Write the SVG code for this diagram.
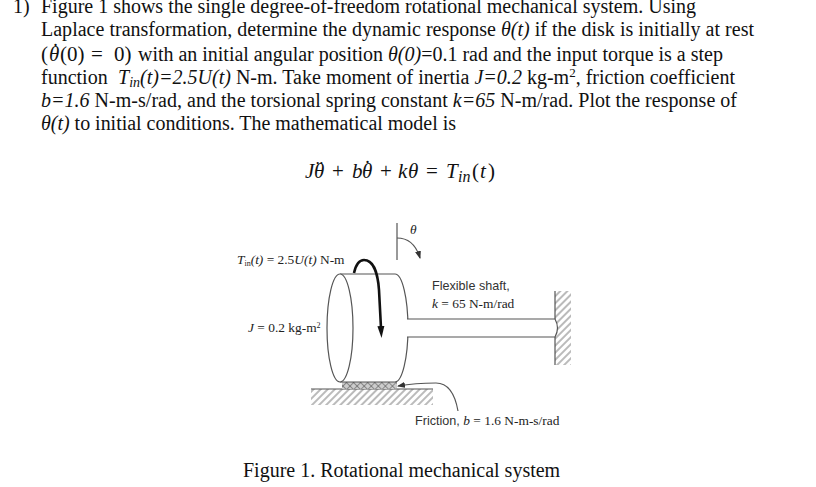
<svg xmlns="http://www.w3.org/2000/svg" width="816" height="487" viewBox="0 0 816 487">
<style>
.t{font-family:"Liberation Serif",serif;font-size:20px;fill:#111}
.i{font-style:italic}
.s{font-size:14px;font-style:italic}
.m{font-family:"Liberation Serif",serif;font-size:21px;fill:#111}
.l{font-family:"Liberation Serif",serif;font-size:13.4px;fill:#222}
.h{font-family:"Liberation Sans",sans-serif;font-size:12.6px;fill:#333}
.d{fill:none;stroke:#555;stroke-width:1.2}
</style>
<defs>
<pattern id="hatch" width="5" height="5" patternUnits="userSpaceOnUse" patternTransform="rotate(-45)"><rect width="5" height="5" fill="#fff"/><line x1="0" y1="2" x2="5" y2="2" stroke="#666" stroke-width="0.9"/></pattern>
<pattern id="cross" width="5" height="5" patternUnits="userSpaceOnUse" patternTransform="rotate(45)"><rect width="5" height="5" fill="#ccc"/><path d="M0 0H5M0 0V5" stroke="#444" stroke-width="1"/></pattern>
<marker id="big" markerWidth="13" markerHeight="8" refX="2" refY="4" orient="auto" markerUnits="userSpaceOnUse"><path d="M0 .5L12 4L0 7.5Z" fill="#111"/></marker>
<marker id="sm" markerWidth="8" markerHeight="6" refX="7" refY="3" orient="auto" markerUnits="userSpaceOnUse"><path d="M0 0L8 3L0 6Z" fill="#333"/></marker>
</defs>
<rect width="816" height="487" fill="#fff"/>
<g id="problem">
<text class="t" x="13" y="13">1)</text>
<text class="t" x="41" y="13" textLength="655">Figure 1 shows the single degree-of-freedom rotational mechanical system. Using</text>
<text class="t" x="41" y="36" textLength="713">Laplace transformation, determine the dynamic response <tspan class="i">θ(t)</tspan> if the disk is initially at rest</text>
<text class="m" y="61"><tspan x="41">(</tspan><tspan x="49" font-style="italic">θ</tspan><tspan x="52" dy="-3">&#x2D9;</tspan><tspan x="60" dy="3">(0)</tspan><tspan x="91">=</tspan><tspan x="114">0)</tspan></text>
<text class="t" x="138" y="61" textLength="245">with an initial angular position</text>
<text class="t" x="388" y="61" textLength="335"><tspan class="i">θ(0)</tspan>=0.1 rad and the input torque is a step</text>
<text class="t" x="41" y="84">function</text>
<text class="t" x="118" y="84" textLength="617"><tspan class="i">T</tspan><tspan class="s" dy="3">in</tspan><tspan class="i" dy="-3">(t)=2.5U(t)</tspan> N-m. Take moment of inertia <tspan class="i">J=0.2</tspan> kg-m<tspan font-size="13" dy="-7">2</tspan><tspan dy="7">, friction coefficient</tspan></text>
<text class="t" x="41" y="107" textLength="696"><tspan class="i">b=1.6</tspan> N-m-s/rad, and the torsional spring constant <tspan class="i">k=65</tspan> N-m/rad. Plot the response of</text>
<text class="t" x="41" y="130" textLength="415"><tspan class="i">θ(t)</tspan> to initial conditions. The mathematical model is</text>
</g>
<g id="equation">
<text class="m" y="178" font-style="italic"><tspan x="305">J</tspan><tspan x="314">θ</tspan><tspan x="316" dy="-3" font-style="normal">&#xA8;</tspan><tspan x="332" dy="3" font-style="normal">+</tspan><tspan x="352">b</tspan><tspan x="362">θ</tspan><tspan x="364" dy="-3" font-style="normal">&#x2D9;</tspan><tspan x="380" dy="3" font-style="normal">+</tspan><tspan x="398">k</tspan><tspan x="408">θ</tspan><tspan x="426" font-style="normal">=</tspan><tspan x="446">T</tspan><tspan x="458" font-size="16" dy="4">in</tspan><tspan x="472" dy="-4" font-style="normal">(</tspan><tspan x="480">t</tspan><tspan x="488" font-style="normal">)</tspan></text>
</g>
<g id="ground"><rect x="311" y="389" width="122" height="16" fill="url(#hatch)"/><line class="d" x1="311" y1="389" x2="433" y2="389"/></g>
<g id="friction-pad"><rect x="342" y="381" width="55" height="8" fill="url(#cross)"/></g>
<g id="disk"><path class="d" d="M340 274H395A13 54 0 0 1 395 382H340" style="fill:#fff"/><ellipse class="d" cx="340" cy="328" rx="13" ry="54" style="fill:#fff"/></g>
<g id="wall"><rect x="555" y="291" width="16" height="74" fill="url(#hatch)"/><line class="d" x1="555" y1="291" x2="555" y2="319"/><line class="d" x1="555" y1="337" x2="555" y2="365"/></g>
<g id="shaft"><path class="d" d="M407 319H555Q560 328 555 337H407" style="fill:#fff"/></g>
<g id="connectors">
<path d="M354 273C356 264 360 260 364 260C374 260 378 275 379 290L381 328" fill="none" stroke="#111" stroke-width="2.6" marker-end="url(#big)"/>
<line class="d" x1="397" y1="223" x2="397" y2="260"/>
<path class="d" d="M397 238Q414 238 420 258" marker-end="url(#sm)"/>
<path class="d" d="M458 411Q453 383 436 383Q415 383 398 386" marker-end="url(#sm)"/>
</g>
<g id="labels">
<text class="l" x="410" y="234" font-style="italic">θ</text>
<text class="l" x="237" y="264"><tspan font-style="italic">T</tspan><tspan font-size="8" dy="2">in</tspan><tspan dy="-2"><tspan font-style="italic">(t)</tspan> = 2.5<tspan font-style="italic">U(t)</tspan> N-m</tspan></text>
<text class="l" x="248" y="332"><tspan font-style="italic">J</tspan> = 0.2 kg-m<tspan font-size="8" dy="-4">2</tspan></text>
<text class="h" x="432" y="290">Flexible shaft,</text>
<text class="l" x="432" y="308"><tspan font-style="italic">k</tspan> = 65 N-m/rad</text>
<text x="415" y="425"><tspan class="h">Friction, </tspan><tspan class="l"><tspan font-style="italic">b</tspan> = 1.6 N-m-s/rad</tspan></text>
<text class="t" x="243" y="477">Figure 1. Rotational mechanical system</text>
</g>
</svg>
